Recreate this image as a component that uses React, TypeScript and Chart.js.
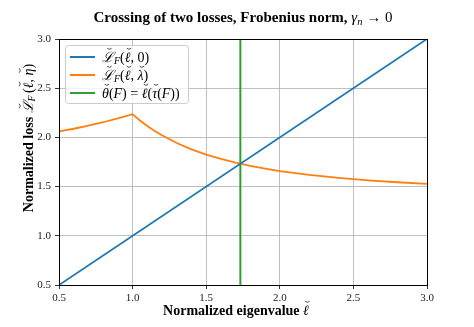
import React, { useEffect, useRef } from "react";
import { Chart, registerables } from "chart.js";

Chart.register(...registerables);

const X_TICKS = [0.5, 1.0, 1.5, 2.0, 2.5, 3.0];
const Y_TICKS = [0.5, 1.0, 1.5, 2.0, 2.5, 3.0];

const X_BLUE = [0.5, 3.0];
const Y_BLUE = [0.5, 3.0];

const X_ORANGE = [0.5, 0.6, 0.7, 0.8, 0.9, 1.0, 1.05, 1.1, 1.15, 1.2, 1.3, 1.4, 1.5, 1.6, 1.7, 1.8, 1.9, 2.0, 2.2, 2.4, 2.6, 2.8, 3.0];
const Y_ORANGE = [2.062, 2.088, 2.119, 2.154, 2.193, 2.236, 2.172, 2.116, 2.066, 2.021, 1.943, 1.879, 1.826, 1.781, 1.743, 1.711, 1.683, 1.658, 1.619, 1.588, 1.563, 1.544, 1.528];

const X_GREEN = [1.732, 1.732];
const Y_GREEN = [0.5, 3.0];

const FAM = "'Liberation Serif', 'DejaVu Serif', serif";

type Seg = { t: string; it?: boolean; b?: boolean; sub?: boolean; acc?: boolean };

function segFont(s: Seg, size: number) {
  const sz = s.sub ? size * 0.7 : size;
  return `${s.it ? "italic " : ""}${s.b ? "bold " : ""}${sz}px ${FAM}`;
}

function richWidth(ctx: CanvasRenderingContext2D, segs: Seg[], size: number) {
  let w = 0;
  for (const s of segs) {
    ctx.font = segFont(s, size);
    w += ctx.measureText(s.t).width;
  }
  return w;
}

function drawRich(ctx: CanvasRenderingContext2D, segs: Seg[], x: number, y: number, size: number, align: "left" | "center") {
  const w = richWidth(ctx, segs, size);
  let cx = align === "center" ? x - w / 2 : x;
  ctx.textBaseline = "middle";
  ctx.textAlign = "left";
  for (const s of segs) {
    ctx.font = segFont(s, size);
    const sw = ctx.measureText(s.t).width;
    const yy = y + (s.sub ? size * 0.28 : 0);
    ctx.fillText(s.t, cx, yy);
    if (s.acc) {
      const ax = cx + sw / 2 + size * 0.1;
      const ay = y - size * 0.64;
      const hw = size * 0.16;
      ctx.save();
      ctx.strokeStyle = ctx.fillStyle as string;
      ctx.lineWidth = 0.7;
      ctx.beginPath();
      ctx.moveTo(ax - hw, ay - 0.8);
      ctx.quadraticCurveTo(ax, ay + 1.4, ax + hw, ay - 0.8);
      ctx.stroke();
      ctx.restore();
    }
    cx += sw;
  }
}

const TITLE: Seg[] = [
  { t: "Crossing of two losses, Frobenius norm, ", b: true },
  { t: "γ", it: true },
  { t: "n", it: true, sub: true },
  { t: " → 0" },
];
const XTITLE: Seg[] = [{ t: "Normalized eigenvalue ", b: true }, { t: "ℓ", it: true, acc: true }];
const YTITLE: Seg[] = [
  { t: "Normalized loss ", b: true },
  { t: "ℒ", it: true, acc: true },
  { t: "F ", it: true, sub: true },
  { t: "(" },
  { t: "ℓ", it: true, acc: true },
  { t: ", " },
  { t: "η", it: true, acc: true },
  { t: ")" },
];
const LEGEND: { color: string; segs: Seg[] }[] = [
  {
    color: "#1f77b4",
    segs: [{ t: "ℒ", it: true, acc: true }, { t: "F", it: true, sub: true }, { t: "(" }, { t: "ℓ", it: true, acc: true }, { t: ", 0)" }],
  },
  {
    color: "#ff7f0e",
    segs: [{ t: "ℒ", it: true, acc: true }, { t: "F", it: true, sub: true }, { t: "(" }, { t: "ℓ", it: true, acc: true }, { t: ", " }, { t: "λ", it: true, acc: true }, { t: ")" }],
  },
  {
    color: "#2ca02c",
    segs: [{ t: "θ", it: true, acc: true }, { t: "(" }, { t: "F", it: true }, { t: ") = " }, { t: "ℓ", it: true, acc: true }, { t: "(" }, { t: "τ", it: true, acc: true }, { t: "(" }, { t: "F", it: true }, { t: "))" }],
  },
];

const decorPlugin = {
  id: "decor",
  afterDraw(chart: any) {
    const ctx: CanvasRenderingContext2D = chart.ctx;
    const a = chart.chartArea;
    ctx.save();
    ctx.strokeStyle = "#000";
    ctx.lineWidth = 1;
    ctx.strokeRect(Math.round(a.left) + 0.5, Math.round(a.top) + 0.5, Math.round(a.right - a.left), Math.round(a.bottom - a.top));
    ctx.fillStyle = "#000";
    drawRich(ctx, TITLE, (a.left + a.right) / 2, 18, 15, "center");
    drawRich(ctx, XTITLE, 236, 311, 14, "center");
    ctx.save();
    ctx.translate(29, 138);
    ctx.rotate(-Math.PI / 2);
    drawRich(ctx, YTITLE, 0, 0, 14, "center");
    ctx.restore();
    const lx = a.left + 6, ly = a.top + 6, lw = 123, lh = 58;
    ctx.beginPath();
    (ctx as any).roundRect(lx + 0.5, ly + 0.5, lw, lh, 3);
    ctx.fillStyle = "rgba(255,255,255,0.8)";
    ctx.fill();
    ctx.strokeStyle = "#cccccc";
    ctx.lineWidth = 1;
    ctx.stroke();
    LEGEND.forEach((item, i) => {
      const yy = ly + 12 + i * 18;
      ctx.strokeStyle = item.color;
      ctx.lineWidth = 2;
      ctx.beginPath();
      ctx.moveTo(lx + 5, yy);
      ctx.lineTo(lx + 30, yy);
      ctx.stroke();
      ctx.fillStyle = "#000";
      drawRich(ctx, item.segs, lx + 37, yy + 1, 14, "left");
    });
    ctx.restore();
  },
};

export default function App() {
  const ref = useRef<HTMLCanvasElement | null>(null);
  useEffect(() => {
    document.body.style.margin = "0";
    const toPts = (xs: number[], ys: number[]) => xs.map((x, i) => ({ x, y: ys[i] }));
    const chart = new Chart(ref.current!, {
      type: "line",
      data: {
        datasets: [
          { data: toPts(X_BLUE, Y_BLUE), borderColor: "#1f77b4", borderWidth: 1.8, pointRadius: 0, tension: 0 },
          { data: toPts(X_ORANGE, Y_ORANGE), borderColor: "#ff7f0e", borderWidth: 1.8, pointRadius: 0, tension: 0 },
          { data: toPts(X_GREEN, Y_GREEN), borderColor: "#2ca02c", borderWidth: 2, pointRadius: 0, tension: 0 },
        ],
      },
      options: {
        animation: false,
        responsive: false,
        layout: { padding: { top: 39, right: 47, left: 0, bottom: 0 } },
        plugins: { legend: { display: false }, title: { display: false }, tooltip: { enabled: false } },
        scales: {
          x: {
            type: "linear",
            min: 0.5,
            max: 3.0,
            afterBuildTicks: (s: any) => { s.ticks = X_TICKS.map((v) => ({ value: v })); },
            afterFit: (s: any) => { s.height = 42; },
            ticks: { callback: (v: any) => Number(v).toFixed(1), color: "#222", font: { family: FAM, size: 11 }, padding: 3, maxRotation: 0 },
            grid: { color: "#b0b0b0", lineWidth: 0.8, tickColor: "#000", tickLength: 4, drawTicks: true },
            border: { display: true, color: "#000" },
          },
          y: {
            type: "linear",
            min: 0.5,
            max: 3.0,
            afterBuildTicks: (s: any) => { s.ticks = Y_TICKS.map((v) => ({ value: v })); },
            afterFit: (s: any) => { s.width = 59; },
            ticks: { callback: (v: any) => Number(v).toFixed(1), color: "#222", font: { family: FAM, size: 11 }, padding: 4 },
            grid: { color: "#b0b0b0", lineWidth: 0.8, tickColor: "#000", tickLength: 4, drawTicks: true },
            border: { display: true, color: "#000" },
          },
        },
      },
      plugins: [decorPlugin],
    } as any);
    return () => chart.destroy();
  }, []);
  return (
    <div style={{ width: 474, height: 327, background: "#fff" }}>
      <canvas ref={ref} width={474} height={327} style={{ display: "block" }} />
    </div>
  );
}
